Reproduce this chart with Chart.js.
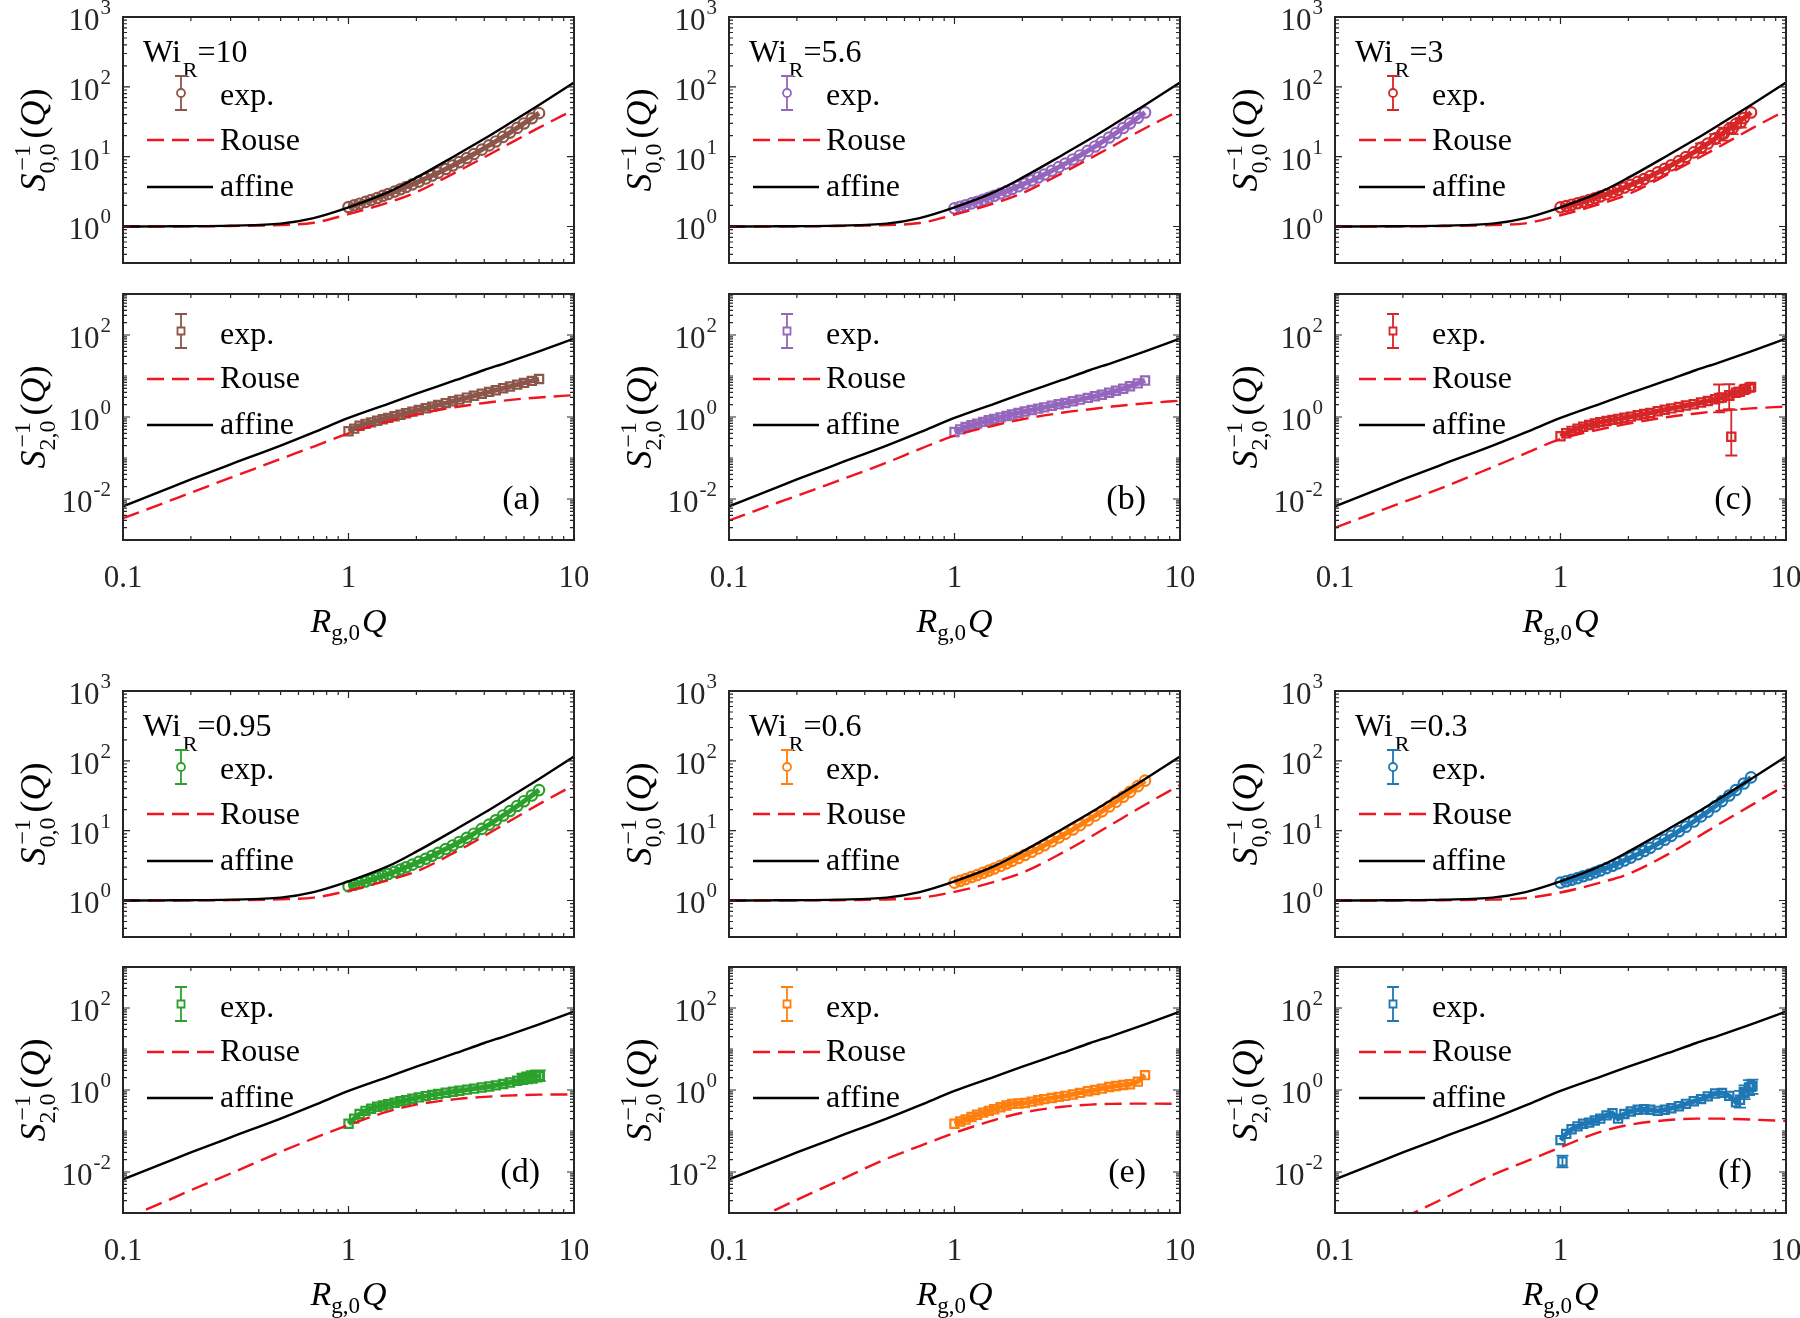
<!DOCTYPE html>
<html>
<head>
<meta charset="utf-8">
<script src="https://cdn.jsdelivr.net/npm/chart.js@4.4.1/dist/chart.umd.min.js"></script>
<style>
html, body { margin: 0; padding: 0; background: #fff; }
#fig { position: relative; width: 1800px; height: 1318px; overflow: hidden; background: #fff; }
#fig canvas { position: absolute; }
</style>
</head>
<body>
<div id="fig"></div>
<script>
// ---- tick labels ----
const xTicks = [0.1, 1, 10];
const xTickLabels = ['0.1', '1', '10'];
const yTicksS00 = [1, 10, 100, 1000];
const yExpS00 = ['0', '1', '2', '3'];
const yTicksS20 = [0.01, 1, 100];
const yExpS20 = ['-2', '0', '2'];

// ---- theory curves ----
const theoryQ = [0.1, 0.15, 0.2, 0.3, 0.5, 0.7, 1, 1.5, 2, 3, 4, 5, 7, 10];
const affineS00 = [1.0, 1.005, 1.01, 1.03, 1.10, 1.32, 1.88, 3.1, 5.0, 10.5, 18, 28, 55, 115];
const affineS20 = [0.0066, 0.016, 0.03, 0.07, 0.2, 0.42, 0.95, 2.1, 3.7, 8.0, 14, 21, 40, 82];

const rouseS00_a = [1.0, 1.0, 1.005, 1.015, 1.05, 1.13, 1.5, 2.2, 3.1, 6.0, 9.8, 14.5, 26, 47];
const rouseS00_b = [1.0, 1.0, 1.005, 1.015, 1.05, 1.12, 1.48, 2.15, 3.0, 5.8, 9.5, 14, 25.5, 46];
const rouseS00_c = [1.0, 1.0, 1.005, 1.015, 1.05, 1.11, 1.45, 2.1, 2.9, 5.6, 9.2, 13.6, 25, 46];
const rouseS00_d = [1.0, 1.0, 1.004, 1.012, 1.04, 1.10, 1.38, 1.95, 2.6, 5.0, 8.4, 12.8, 24, 45];
const rouseS00_e = [1.0, 1.0, 1.004, 1.01, 1.035, 1.09, 1.33, 1.85, 2.5, 4.8, 8.1, 12.4, 23.5, 45];
const rouseS00_f = [1.0, 1.0, 1.003, 1.01, 1.03, 1.08, 1.30, 1.8, 2.4, 4.6, 7.9, 12.2, 23, 45];

const rouseS20_a = [0.0034, 0.0078, 0.0143, 0.033, 0.095, 0.19, 0.40, 0.78, 1.15, 1.75, 2.2, 2.55, 3.0, 3.4];
const rouseS20_b = [0.003, 0.0068, 0.012, 0.027, 0.077, 0.165, 0.35, 0.62, 0.88, 1.27, 1.55, 1.8, 2.15, 2.5];
const rouseS20_c = [0.002, 0.0046, 0.0083, 0.019, 0.06, 0.13, 0.29, 0.5, 0.69, 1.0, 1.22, 1.4, 1.62, 1.8];
const rouseS20_d = [0.0007, 0.0018, 0.0036, 0.0092, 0.031, 0.066, 0.14, 0.3, 0.44, 0.6, 0.68, 0.73, 0.77, 0.78];
const rouseS20_e = [0.00035, 0.001, 0.0021, 0.0058, 0.021, 0.043, 0.09, 0.185, 0.28, 0.39, 0.44, 0.46, 0.465, 0.46];
const rouseS20_f = [0.00012, 0.00035, 0.00075, 0.0022, 0.0085, 0.018, 0.04, 0.095, 0.14, 0.185, 0.2, 0.2, 0.19, 0.175];

// ---- experimental points ----
const expQ = [1.0, 1.06, 1.12, 1.19, 1.26, 1.34, 1.42, 1.5, 1.6, 1.7, 1.8, 1.92, 2.05, 2.2, 2.35,
              2.5, 2.7, 2.9, 3.1, 3.35, 3.6, 3.9, 4.2, 4.5, 4.85, 5.2, 5.6, 6.0, 6.5, 7.0];

const expS00_a = [1.9, 2.01, 2.12, 2.25, 2.39, 2.56, 2.74, 2.92, 3.16, 3.41, 3.68, 4.01, 4.39, 4.86, 5.36,
                  5.89, 6.66, 7.48, 8.36, 9.56, 10.9, 12.6, 14.5, 16.5, 19.2, 22.1, 25.8, 29.9, 35.5, 42.0];
const expS00_b = [1.82, 1.92, 2.01, 2.14, 2.26, 2.42, 2.58, 2.75, 2.97, 3.2, 3.45, 3.76, 4.12, 4.56, 5.04,
                  5.55, 6.28, 7.08, 7.94, 9.12, 10.4, 12.1, 14.0, 16.1, 18.8, 21.8, 25.7, 30.0, 36.1, 43.0];
const expS00_c = [1.88, 1.96, 2.05, 2.15, 2.26, 2.4, 2.54, 2.69, 2.89, 3.1, 3.32, 3.61, 3.94, 4.35, 4.79,
                  5.26, 5.95, 6.7, 7.52, 8.64, 9.88, 11.5, 13.4, 15.4, 18.1, 21.2, 25.0, 29.4, 35.7, 43.0];
const expS00_d = [1.6, 1.68, 1.77, 1.87, 1.98, 2.11, 2.24, 2.39, 2.58, 2.78, 2.99, 3.26, 3.57, 3.96, 4.37,
                  4.81, 5.45, 6.14, 6.89, 7.92, 9.05, 10.6, 12.2, 14.1, 16.5, 19.1, 22.6, 26.4, 31.8, 38.1];
const expS00_e = [1.8, 1.91, 2.02, 2.17, 2.31, 2.49, 2.68, 2.87, 3.13, 3.4, 3.69, 4.06, 4.48, 5.0, 5.57,
                  6.17, 7.04, 7.99, 9.02, 10.4, 12.0, 14.1, 16.4, 18.9, 22.2, 25.9, 30.6, 35.9, 43.4, 52.0];
const expS00_f = [1.8, 1.89, 1.98, 2.09, 2.22, 2.36, 2.52, 2.69, 2.91, 3.15, 3.4, 3.73, 4.11, 4.59, 5.11,
                  5.67, 6.5, 7.42, 8.43, 9.83, 11.4, 13.5, 16.0, 18.7, 22.3, 26.5, 31.9, 38.2, 47.3, 57.9];

const expS20_a = [0.45, 0.52, 0.61, 0.68, 0.74, 0.81, 0.88, 0.95, 1.04, 1.13, 1.23, 1.35, 1.48, 1.63, 1.79,
                  1.96, 2.18, 2.42, 2.66, 2.97, 3.29, 3.68, 4.09, 4.51, 5.01, 5.53, 6.15, 6.79, 7.6, 8.45];
const expS20_b = [0.43, 0.5, 0.57, 0.63, 0.69, 0.76, 0.83, 0.9, 0.98, 1.06, 1.15, 1.25, 1.36, 1.48, 1.6,
                  1.72, 1.88, 2.04, 2.2, 2.42, 2.65, 2.92, 3.2, 3.5, 3.9, 4.35, 4.9, 5.6, 6.6, 7.8];
const expS20_c = [0.34, 0.4, 0.46, 0.52, 0.58, 0.64, 0.7, 0.75, 0.8, 0.85, 0.9, 0.96, 1.02, 1.1, 1.18,
                  1.26, 1.38, 1.5, 1.62, 1.76, 1.9, 2.05, 2.25, 2.45, 2.7, 3.0, 3.4, 3.9, 4.6, 5.4];
const expS20_d = [0.15, 0.2, 0.26, 0.31, 0.35, 0.39, 0.42, 0.45, 0.49, 0.53, 0.56, 0.61, 0.66, 0.71, 0.76,
                  0.8, 0.86, 0.91, 0.96, 1.02, 1.08, 1.15, 1.22, 1.3, 1.4, 1.52, 1.68, 1.9, 2.1, 2.2];
const expS20_e = [0.15, 0.17, 0.19, 0.22, 0.25, 0.28, 0.31, 0.34, 0.38, 0.42, 0.46, 0.47, 0.48, 0.52, 0.56,
                  0.6, 0.64, 0.68, 0.72, 0.78, 0.85, 0.93, 1.0, 1.08, 1.18, 1.25, 1.32, 1.38, 1.6, 2.3];
const expS20_f = [0.06, 0.085, 0.11, 0.13, 0.15, 0.16, 0.18, 0.2, 0.24, 0.27, 0.2, 0.26, 0.3, 0.33, 0.34,
                  0.33, 0.31, 0.33, 0.36, 0.4, 0.46, 0.53, 0.6, 0.7, 0.82, 0.85, 0.72, 0.5, 0.9, 1.2];

// points with visible error bars
const errS00_cQ = [4.2, 4.85, 5.3, 5.8, 6.3];
const errS00_cY = [13.4, 18.1, 21.5, 25.5, 31];
const errS00_cLo = [11.5, 15.5, 17, 21, 26];
const errS00_cHi = [15.5, 21, 26, 30.5, 36];

const errS20_cQ = [5.05, 5.6, 5.72, 6.2, 6.6, 6.9];
const errS20_cY = [2.9, 3.3, 0.33, 4.1, 4.8, 5.2];
const errS20_cLo = [1.3, 1.55, 0.115, 3.3, 3.9, 4.3];
const errS20_cHi = [6.2, 6.3, 1.5, 5.2, 5.9, 6.2];

const errS20_dQ = [5.9, 6.2, 6.5, 6.8, 7.05];
const errS20_dY = [1.85, 1.95, 2.05, 2.15, 2.2];
const errS20_dLo = [1.4, 1.45, 1.5, 1.6, 1.65];
const errS20_dHi = [2.5, 2.7, 2.9, 3.0, 3.0];

const errS20_fQ = [1.02, 6.25, 6.55, 6.85, 7.1];
const errS20_fY = [0.018, 0.58, 0.85, 1.15, 1.25];
const errS20_fLo = [0.013, 0.37, 0.6, 0.75, 0.8];
const errS20_fHi = [0.025, 0.95, 1.3, 1.75, 1.8];

// ---- panels ----
const panels = [
  { tag: 'a', wi: '10',   color: '#8C564B', col: 0, row: 0, e00: expS00_a, e20: expS20_a, r00: rouseS00_a, r20: rouseS20_a },
  { tag: 'b', wi: '5.6',  color: '#9467BD', col: 1, row: 0, e00: expS00_b, e20: expS20_b, r00: rouseS00_b, r20: rouseS20_b },
  { tag: 'c', wi: '3',    color: '#D62728', col: 2, row: 0, e00: expS00_c, e20: expS20_c, r00: rouseS00_c, r20: rouseS20_c,
    err00: [errS00_cQ, errS00_cY, errS00_cLo, errS00_cHi], err20: [errS20_cQ, errS20_cY, errS20_cLo, errS20_cHi] },
  { tag: 'd', wi: '0.95', color: '#2CA02C', col: 0, row: 1, e00: expS00_d, e20: expS20_d, r00: rouseS00_d, r20: rouseS20_d,
    err20: [errS20_dQ, errS20_dY, errS20_dLo, errS20_dHi] },
  { tag: 'e', wi: '0.6',  color: '#FF7F0E', col: 1, row: 1, e00: expS00_e, e20: expS20_e, r00: rouseS00_e, r20: rouseS20_e },
  { tag: 'f', wi: '0.3',  color: '#1F77B4', col: 2, row: 1, e00: expS00_f, e20: expS20_f, r00: rouseS00_f, r20: rouseS20_f,
    err20: [errS20_fQ, errS20_fY, errS20_fLo, errS20_fHi] }
];

const colLeft = [123, 729, 1335];
const rowTop00 = [17, 691];
const rowTop20 = [294, 967];
const PLOT_W = 451, PLOT_H = 246;
const SERIF = '"Liberation Serif", "Times New Roman", serif';
const AXIS = '#262626';
const ROUSE = '#F0141E';
const DASH = [17, 8];

function pts(xs, ys) {
  return xs.map((x, i) => ({ x: x, y: ys[i] }));
}

const errorBars = {
  id: 'errorBars',
  afterDatasetsDraw(chart) {
    const ctx = chart.ctx, a = chart.chartArea;
    const xs = chart.scales.x, ys = chart.scales.y;
    ctx.save();
    ctx.beginPath();
    ctx.rect(a.left, a.top, a.right - a.left, a.bottom - a.top);
    ctx.clip();
    chart.data.datasets.forEach(ds => {
      if (!ds.errLo) return;
      ctx.strokeStyle = ds.pointBorderColor;
      ctx.lineWidth = 1.8;
      ctx.beginPath();
      ds.data.forEach((p, i) => {
        const x = xs.getPixelForValue(p.x);
        const y1 = ys.getPixelForValue(ds.errLo[i]);
        const y2 = ys.getPixelForValue(ds.errHi[i]);
        ctx.moveTo(x, y1); ctx.lineTo(x, y2);
        ctx.moveTo(x - 6, y1); ctx.lineTo(x + 6, y1);
        ctx.moveTo(x - 6, y2); ctx.lineTo(x + 6, y2);
      });
      ctx.stroke();
    });
    ctx.restore();
  }
};

function drawYTitle(ctx, cx, cy, sub) {
  ctx.save();
  ctx.translate(cx, cy);
  ctx.rotate(-Math.PI / 2);
  ctx.fillStyle = '#000';
  ctx.textAlign = 'left';
  ctx.textBaseline = 'alphabetic';
  const big = '36px ' + SERIF, bigI = 'italic 36px ' + SERIF, small = '24px ' + SERIF;
  ctx.font = bigI; const wS = ctx.measureText('S').width; const wQ = ctx.measureText('Q').width;
  ctx.font = small; const wScr = Math.max(ctx.measureText('\u22121').width, ctx.measureText(sub).width);
  ctx.font = big; const wP1 = ctx.measureText('(').width; const wP2 = ctx.measureText(')').width;
  const total = wS + 3 + wScr + 2 + wP1 + wQ + wP2;
  let x = -total / 2;
  ctx.font = bigI; ctx.fillText('S', x, 0); x += wS + 3;
  ctx.font = small; ctx.fillText('\u22121', x, -15); ctx.fillText(sub, x - 3, 10); x += wScr + 2;
  ctx.font = big; ctx.fillText('(', x, 0); x += wP1;
  ctx.font = bigI; ctx.fillText('Q', x, 0); x += wQ;
  ctx.font = big; ctx.fillText(')', x, 0);
  ctx.restore();
}

function drawXTitle(ctx, cx, y) {
  ctx.save();
  ctx.fillStyle = '#000';
  ctx.textAlign = 'left';
  ctx.textBaseline = 'alphabetic';
  const bigI = 'italic 34px ' + SERIF, small = '23px ' + SERIF;
  ctx.font = bigI; const wR = ctx.measureText('R').width; const wQ = ctx.measureText('Q').width;
  ctx.font = small; const wSub = ctx.measureText('g,0').width;
  const total = wR + wSub + 2 + wQ;
  let x = cx - total / 2;
  ctx.font = bigI; ctx.fillText('R', x, y); x += wR;
  ctx.font = small; ctx.fillText('g,0', x, y + 8); x += wSub + 2;
  ctx.font = bigI; ctx.fillText('Q', x, y);
  ctx.restore();
}

function drawWi(ctx, x, y, val) {
  ctx.save();
  ctx.fillStyle = '#000';
  ctx.textAlign = 'left';
  ctx.textBaseline = 'alphabetic';
  ctx.font = '32px ' + SERIF;
  ctx.fillText('Wi', x, y);
  x += ctx.measureText('Wi').width + 2;
  ctx.font = '22px ' + SERIF;
  ctx.fillText('R', x, y + 15);
  x += ctx.measureText('R').width;
  ctx.font = '32px ' + SERIF;
  ctx.fillText('=' + val, x, y);
  ctx.restore();
}

function makeDecor(p, isS00) {
  return {
    id: 'decor',
    afterDraw(chart) {
      const ctx = chart.ctx, a = chart.chartArea;
      const xs = chart.scales.x, ys = chart.scales.y;
      ctx.save();

      // tick marks inside the box, on all four sides
      ctx.strokeStyle = AXIS;
      ctx.lineWidth = 1.2;
      ctx.beginPath();
      for (let e = -1; e <= 1; e++) {
        for (let k = 1; k <= 9; k++) {
          const v = k * Math.pow(10, e);
          if (v > 10.0001) continue;
          const px = xs.getPixelForValue(v);
          const len = k === 1 ? 7 : 4;
          ctx.moveTo(px, a.bottom); ctx.lineTo(px, a.bottom - len);
          ctx.moveTo(px, a.top); ctx.lineTo(px, a.top + len);
        }
      }
      const yT = isS00 ? yTicksS00 : yTicksS20;
      const yE = isS00 ? yExpS00 : yExpS20;
      const eLo = Math.floor(Math.log10(ys.min)), eHi = Math.ceil(Math.log10(ys.max));
      for (let e = eLo; e <= eHi; e++) {
        for (let k = 1; k <= 9; k++) {
          const v = k * Math.pow(10, e);
          if (v < ys.min * 0.9999 || v > ys.max * 1.0001) continue;
          const py = ys.getPixelForValue(v);
          const major = yT.some(t => Math.abs(t - v) / t < 1e-6);
          const len = major ? 7 : 4;
          ctx.moveTo(a.left, py); ctx.lineTo(a.left + len, py);
          ctx.moveTo(a.right, py); ctx.lineTo(a.right - len, py);
        }
      }
      ctx.stroke();

      // box
      ctx.lineWidth = 2;
      ctx.strokeRect(a.left, a.top, a.right - a.left, a.bottom - a.top);

      // y tick labels 10^n
      ctx.fillStyle = AXIS;
      ctx.textBaseline = 'alphabetic';
      ctx.textAlign = 'left';
      yT.forEach((v, i) => {
        const py = ys.getPixelForValue(v);
        ctx.font = '31px ' + SERIF;
        const w10 = ctx.measureText('10').width;
        ctx.font = '21px ' + SERIF;
        const wE = ctx.measureText(yE[i]).width;
        const x0 = a.left - 12 - w10 - 1 - wE;
        ctx.font = '31px ' + SERIF;
        ctx.fillText('10', x0, py + 13);
        ctx.font = '21px ' + SERIF;
        ctx.fillText(yE[i], x0 + w10 + 1, py - 3);
      });

      // x tick labels (lower panels only)
      if (!isS00) {
        ctx.font = '31px ' + SERIF;
        ctx.textAlign = 'center';
        xTicks.forEach((v, i) => {
          ctx.fillText(xTickLabels[i], xs.getPixelForValue(v), a.bottom + 47);
        });
        drawXTitle(ctx, (a.left + a.right) / 2, a.bottom + 92);
        ctx.font = '34px ' + SERIF;
        ctx.fillStyle = '#000';
        ctx.textAlign = 'right';
        ctx.textBaseline = 'middle';
        ctx.fillText('(' + p.tag + ')', a.right - 34, a.bottom - 40);
      }

      drawYTitle(ctx, a.left - 78, (a.top + a.bottom) / 2, isS00 ? '0,0' : '2,0');

      // legend
      const L = a.left, T = a.top;
      const lg = isS00
        ? { eb: 76, expT: 80, rouse: 123, rouseT: 125, aff: 170, affT: 171 }
        : { eb: 37, expT: 42, rouse: 85, rouseT: 86, aff: 131, affT: 132 };
      if (isS00) drawWi(ctx, L + 20, T + 45, p.wi);

      const ex = L + 58, ey = T + lg.eb;
      ctx.strokeStyle = p.color;
      ctx.lineWidth = 1.8;
      ctx.beginPath();
      ctx.moveTo(ex, ey - 17); ctx.lineTo(ex, ey + 17);
      ctx.moveTo(ex - 6, ey - 17); ctx.lineTo(ex + 6, ey - 17);
      ctx.moveTo(ex - 6, ey + 17); ctx.lineTo(ex + 6, ey + 17);
      ctx.stroke();
      ctx.fillStyle = '#fff';
      ctx.beginPath();
      if (isS00) ctx.arc(ex, ey, 4, 0, Math.PI * 2);
      else ctx.rect(ex - 3.5, ey - 3.5, 7, 7);
      ctx.fill();
      ctx.stroke();

      ctx.lineWidth = 2.4;
      ctx.strokeStyle = ROUSE;
      ctx.setLineDash(DASH);
      ctx.beginPath();
      ctx.moveTo(L + 24, T + lg.rouse); ctx.lineTo(L + 91, T + lg.rouse);
      ctx.stroke();
      ctx.setLineDash([]);
      ctx.strokeStyle = '#000';
      ctx.beginPath();
      ctx.moveTo(L + 24, T + lg.aff); ctx.lineTo(L + 90, T + lg.aff);
      ctx.stroke();

      ctx.fillStyle = '#000';
      ctx.font = '32px ' + SERIF;
      ctx.textAlign = 'left';
      ctx.textBaseline = 'middle';
      ctx.fillText('exp.', L + 97, T + lg.expT);
      ctx.fillText('Rouse', L + 97, T + lg.rouseT);
      ctx.fillText('affine', L + 97, T + lg.affT);

      ctx.restore();
    }
  };
}

function makePanel(p, isS00) {
  const L = colLeft[p.col];
  const T = isS00 ? rowTop00[p.row] : rowTop20[p.row];
  const padL = 123, padT = 17, padR = 14, padB = isS00 ? 12 : 110;
  const canvas = document.createElement('canvas');
  canvas.width = padL + PLOT_W + padR;
  canvas.height = padT + PLOT_H + padB;
  canvas.style.left = (L - padL) + 'px';
  canvas.style.top = (T - padT) + 'px';
  document.getElementById('fig').appendChild(canvas);

  const expY = isS00 ? p.e00 : p.e20;
  const err = isS00 ? p.err00 : p.err20;
  const marker = isS00 ? 'circle' : 'rect';
  const mRadius = isS00 ? 5.2 : 5.8;
  const datasets = [
    { label: 'affine', data: pts(theoryQ, isS00 ? affineS00 : affineS20), showLine: true,
      borderColor: '#000', borderWidth: 2.4, pointRadius: 0, pointHoverRadius: 0,
      cubicInterpolationMode: 'monotone', clip: 0 },
    { label: 'Rouse', data: pts(theoryQ, isS00 ? p.r00 : p.r20), showLine: true,
      borderColor: ROUSE, borderWidth: 2.4, borderDash: DASH, pointRadius: 0, pointHoverRadius: 0,
      cubicInterpolationMode: 'monotone', clip: 0 }
  ];
  if (err) {
    datasets.push({ label: 'exp err', data: pts(err[0], err[1]), showLine: false,
      errLo: err[2], errHi: err[3], pointStyle: marker, pointRadius: mRadius,
      pointBorderWidth: 2.2, pointBorderColor: p.color, pointBackgroundColor: 'rgba(0,0,0,0)', clip: 0 });
  }
  // dense measured points: markers joined by a band of the same colour
  datasets.push({ label: 'exp.', data: pts(expQ, expY), showLine: true,
    borderColor: p.color, borderWidth: 5,
    pointStyle: marker, pointRadius: mRadius, pointBorderWidth: 2.2,
    pointBorderColor: p.color, pointBackgroundColor: 'rgba(0,0,0,0)', clip: 0 });

  new Chart(canvas, {
    type: 'scatter',
    data: { datasets: datasets },
    options: {
      responsive: false,
      animation: false,
      devicePixelRatio: 1,
      events: [],
      layout: { padding: { left: padL, right: padR, top: padT, bottom: padB } },
      scales: {
        x: { type: 'logarithmic', min: 0.1, max: 10, display: false },
        y: { type: 'logarithmic', min: isS00 ? 0.31623 : 0.001, max: 1000, display: false }
      },
      plugins: { legend: { display: false }, tooltip: { enabled: false } }
    },
    plugins: [errorBars, makeDecor(p, isS00)]
  });
}

panels.forEach(p => {
  makePanel(p, true);
  makePanel(p, false);
});
</script>
</body>
</html>
